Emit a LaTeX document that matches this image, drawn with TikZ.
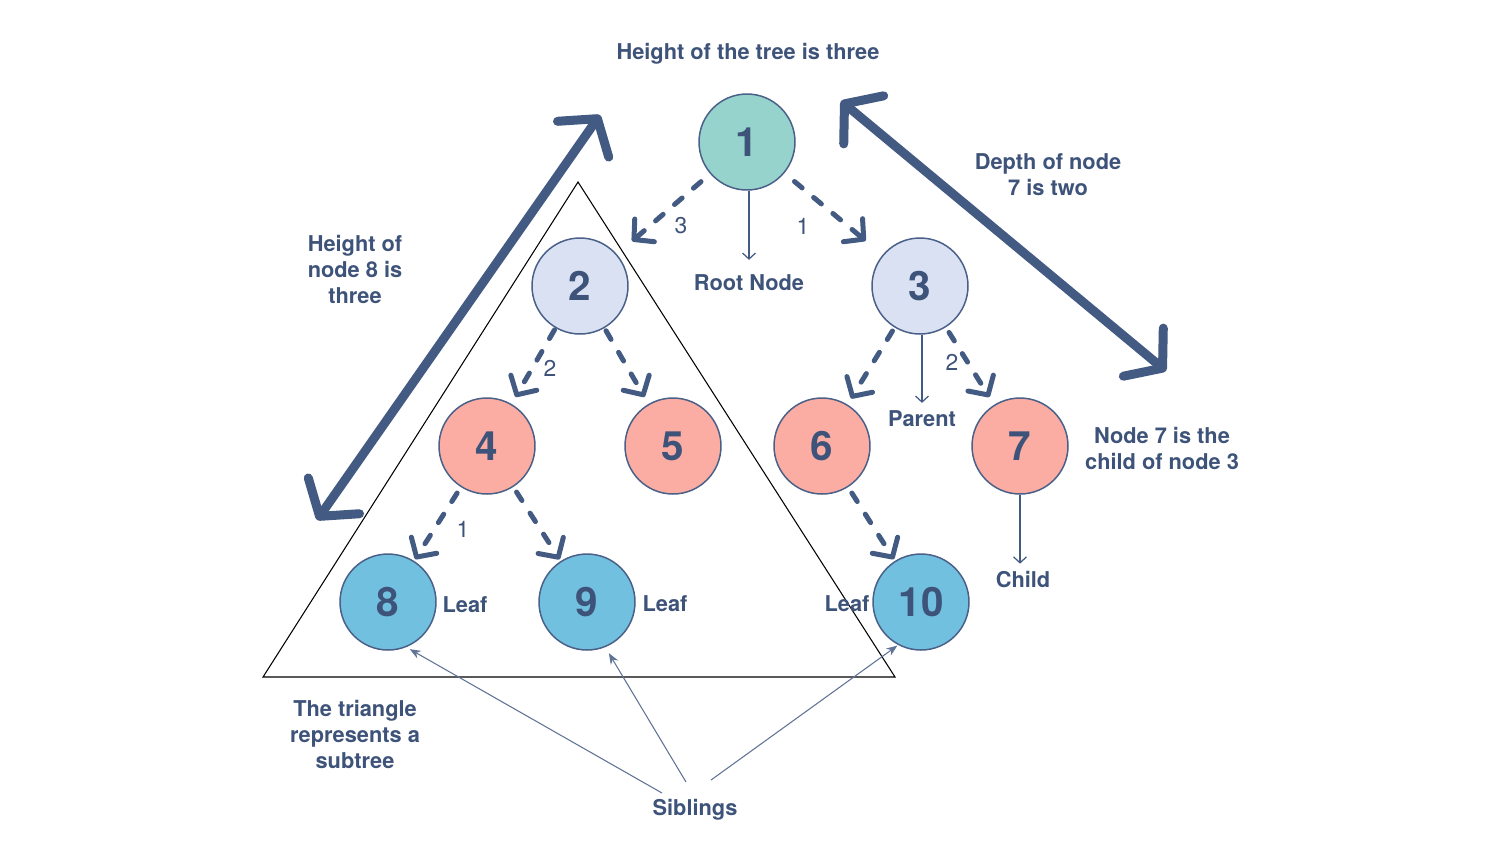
\documentclass[tikz,border=0pt]{standalone}
\usepackage{fontspec}
\setmainfont{TeX Gyre Heros}
\usetikzlibrary{arrows.meta,calc}
\definecolor{ink}{HTML}{3E5379}
\definecolor{edgec}{HTML}{435A82}
\definecolor{tealc}{HTML}{96D3CC}
\definecolor{lavc}{HTML}{DAE1F3}
\definecolor{salmonc}{HTML}{FBADA3}
\definecolor{skyc}{HTML}{72C0DF}
\definecolor{rimc}{HTML}{4A6088}
\begin{document}
\begin{tikzpicture}[x=0.02cm,y=-0.02cm,
 tnode/.style={circle, draw=rimc, line width=0.85pt, minimum size=1.92cm, inner sep=0pt,
   font=\fontsize{23}{26}\selectfont\bfseries, text=ink},
 lbl/.style={font=\fontsize{12.4}{14.8}\selectfont\bfseries, text=ink, align=center, inner sep=1pt},
 elbl/.style={font=\fontsize{13}{15}\selectfont, text=ink, inner sep=0pt},
 dedge/.style={draw=edgec, line width=0.1cm, dash pattern=on 0.2cm off 0.3cm, line cap=round,
   -{Straight Barb[round,length=0.28cm,width=0.6cm]}},
 sedge/.style={draw=edgec, line width=0.7pt, -{Straight Barb[length=0.12cm,width=0.26cm]}},
 sibedge/.style={draw=edgec!85, line width=0.6pt, -{Stealth[length=0.22cm,width=0.17cm]}},
 bigarrow/.style={draw=edgec, line width=0.18cm, line cap=round, line join=round,
   {Straight Barb[round,length=0.5cm,width=1.25cm]}-{Straight Barb[round,length=0.5cm,width=1.25cm]}},
 tri/.style={draw=black, line width=0.6pt}]
\useasboundingbox (0,0) rectangle (1511,850);
\fill[white] (0,0) rectangle (1511,850);

% subtree triangle
\coordinate (ta) at (578,182);
\coordinate (tb) at (263,677);
\coordinate (tc) at (895,677);
\draw[tri] (ta) -- (tb) -- (tc) -- cycle;

% tree nodes
\node[tnode, fill=tealc]   (n1)  at (747,142) {1};
\node[tnode, fill=lavc]    (n2)  at (580,286) {2};
\node[tnode, fill=lavc]    (n3)  at (920,286) {3};
\node[tnode, fill=salmonc] (n4)  at (487,446) {4};
\node[tnode, fill=salmonc] (n5)  at (673,446) {5};
\node[tnode, fill=salmonc] (n6)  at (822,446) {6};
\node[tnode, fill=salmonc] (n7)  at (1020,446) {7};
\node[tnode, fill=skyc]    (n8)  at (388,602) {8};
\node[tnode, fill=skyc]    (n9)  at (587,602) {9};
\node[tnode, fill=skyc]    (n10) at (921,602) {10};

% dashed tree edges
\draw[dedge, shorten <=0.24cm, shorten >=0.40cm] (n1) -- (n2);
\draw[dedge, shorten <=0.26cm, shorten >=0.44cm] (n1) -- (n3);
\draw[dedge, shorten <=0.04cm, shorten >=0.16cm] (n2) -- (n4);
\draw[dedge, shorten <=0.06cm, shorten >=0.16cm] (n2) -- (n5);
\draw[dedge, shorten <=0.08cm, shorten >=0.14cm] (n3) -- (n6);
\draw[dedge, shorten <=0.12cm, shorten >=0.18cm] (n3) -- (n7);
\draw[dedge, shorten <=0.14cm, shorten >=0.04cm] (n4) -- (n8);
\draw[dedge, shorten <=0.12cm, shorten >=0.04cm] (n4) -- (n9);
\draw[dedge, shorten <=0.14cm, shorten >=0.04cm] (n6) -- (n10);

% edge labels
\node[elbl] (e12) at (681,226) {3};
\node[elbl] (e13) at (803,226) {1};
\node[elbl] (e24) at (550,368) {2};
\node[elbl] (e37) at (952,362) {2};
\node[elbl] (e48) at (463,529) {1};

% labels
\node[lbl] (title) at (748,54) {Height of the tree is three};
\node[lbl] (depth) at (1048,175) {Depth of node\\7 is two};
\node[lbl] (hnode) at (355,269) {Height of\\node 8 is\\three};
\node[lbl] (child7) at (1162,448) {Node 7 is the\\child of node 3};
\node[lbl] (subt) at (355,734) {The triangle\\represents a\\subtree};
\node[lbl] (root) at (749,283) {Root Node};
\node[lbl] (parent) at (922,419) {Parent};
\node[lbl] (child) at (1023,579) {Child};
\node[lbl] (leaf8) at (465,605) {Leaf};
\node[lbl] (leaf9) at (665,604) {Leaf};
\node[lbl] (leaf10) at (847,604) {Leaf};
\node[lbl] (sib) at (695,810) {Siblings};

% thin pointer arrows
\draw[sedge, shorten >=0.26cm] (n1.south -| root) -- (root.north);
\draw[sedge, shorten >=0.12cm] (parent |- n3.south) -- (parent.north);
\draw[sedge, shorten >=0.10cm] (n7.south) -- (n7.south |- child.north);

% sibling arrows
\coordinate (s1) at (662,793);
\coordinate (s2) at (686,782);
\coordinate (s3) at (711,780);
\draw[sibedge, shorten >=0.08cm] (s1) -- (n8.-68);
\draw[sibedge, shorten >=0.14cm] (s2) -- (n9.-68);
\draw[sibedge, shorten >=0.02cm] (s3) -- (n10.-118);

% hand-drawn double arrows
\coordinate (la1) at (317,520);
\coordinate (la2) at (600,115);
\draw[bigarrow] (la1) -- (la2);
\coordinate (ra1) at (841,101);
\coordinate (ra2) at (1166,371);
\draw[bigarrow] (ra1) -- (ra2);
\end{tikzpicture}
\end{document}
